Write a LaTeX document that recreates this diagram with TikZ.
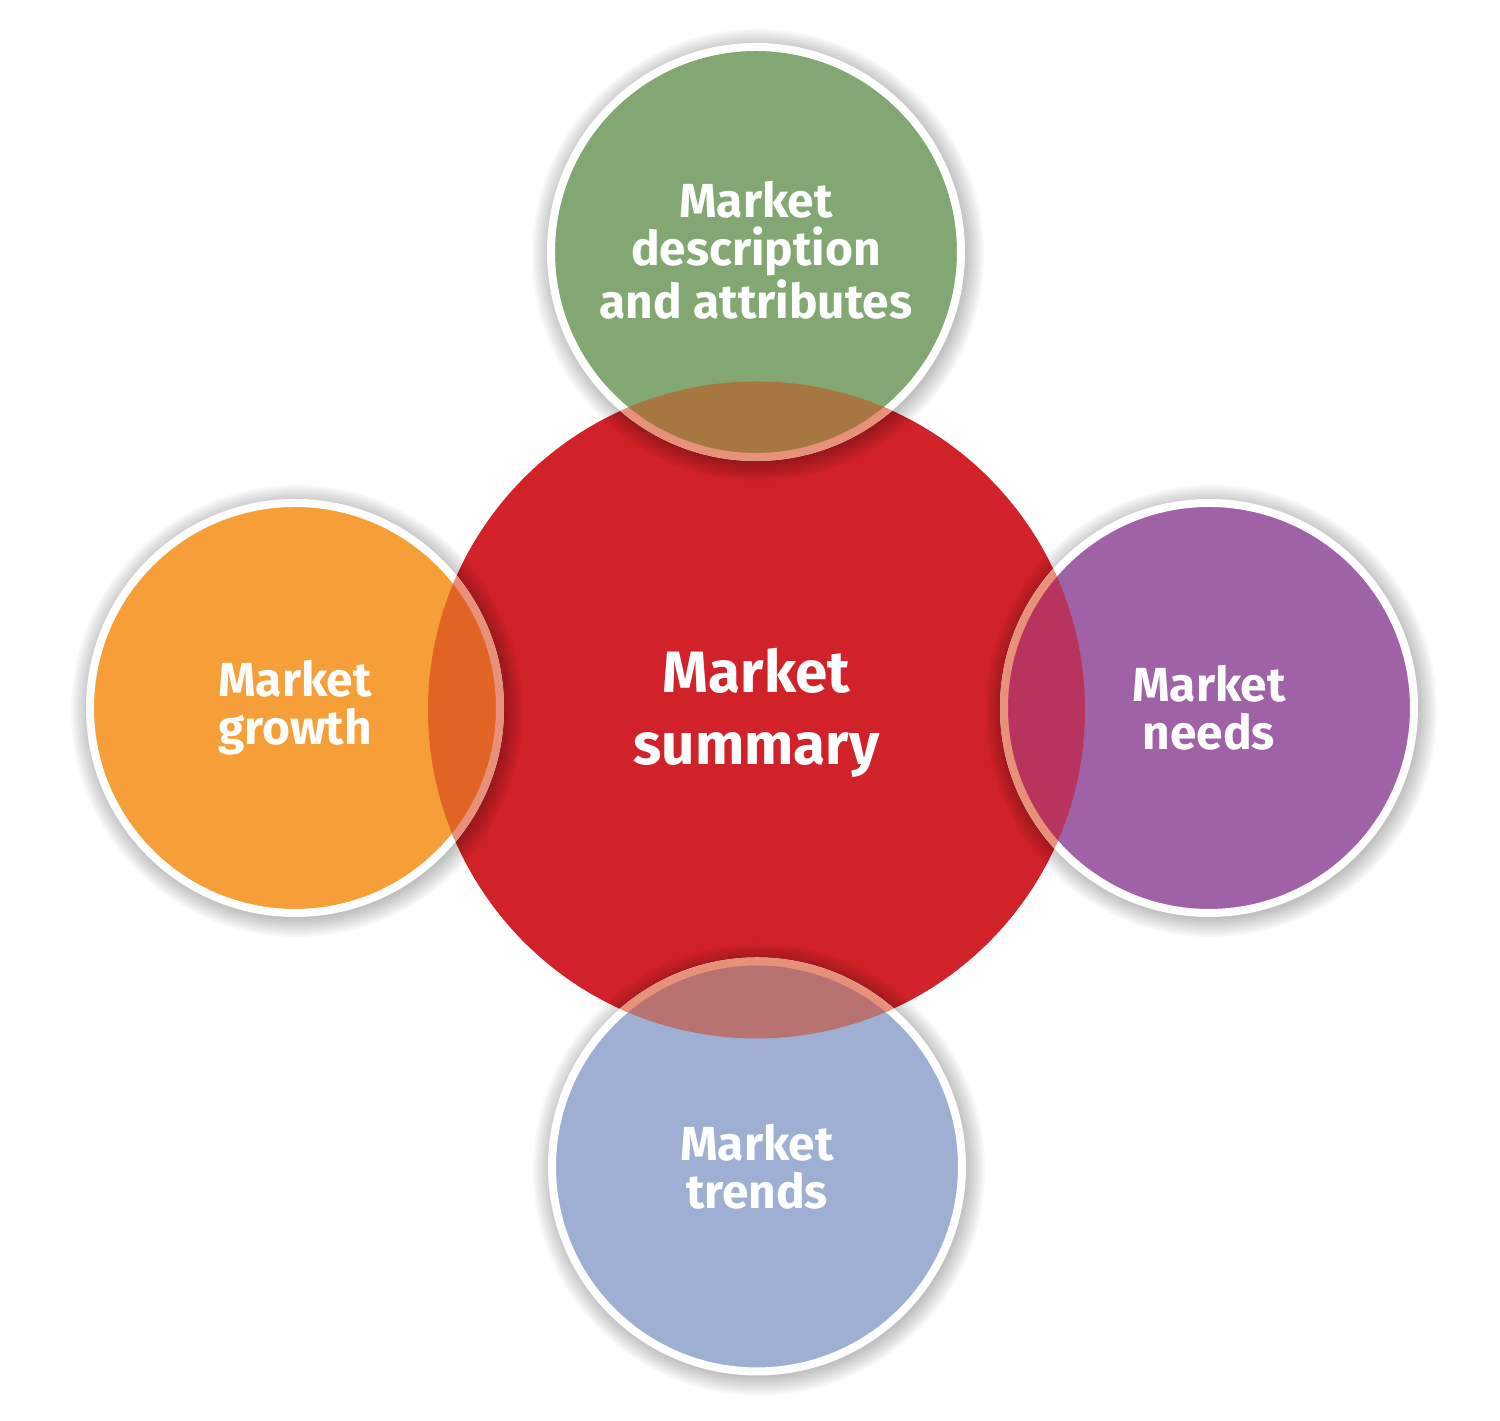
\documentclass[tikz,border=0pt]{standalone}
\usepackage{fontspec}
\setmainfont{Fira Sans}
\definecolor{mred}{HTML}{D12129}
\definecolor{mgreen}{HTML}{83A773}
\definecolor{ogreen}{HTML}{A67740}
\definecolor{morange}{HTML}{F69E38}
\definecolor{oorange}{HTML}{E26425}
\definecolor{mpurple}{HTML}{A062A6}
\definecolor{opurple}{HTML}{B8345F}
\definecolor{mblue}{HTML}{9FAFD3}
\definecolor{oblue}{HTML}{B87271}
\definecolor{salmon}{HTML}{E8917A}
\begin{document}
\begin{tikzpicture}[
    ring/.style={line width=0.08cm},
    txt/.style={text=white, align=center, font=\bfseries\fontsize{13.6}{13.7}\selectfont},
    bigtxt/.style={text=white, align=center, font=\bfseries\fontsize{16.6}{20.5}\selectfont}
  ]
  \useasboundingbox (0,0) rectangle (15,14.21);
  %\draw[help lines] (0,0) grid (15,14);
  \coordinate (cs) at (7.565,7.11);
  \coordinate (cg) at (7.56,11.69);
  \coordinate (co) at (2.95,7.13);
  \coordinate (cp) at (12.09,7.13);
  \coordinate (cb) at (7.57,2.545);
  \fill[mred] (cs) circle (3.285);
  \foreach \pos/\col/\ov in {cg/mgreen/ogreen, co/morange/oorange, cp/mpurple/opurple, cb/mblue/oblue}{
    % soft shadow
    \foreach \k in {1,...,10}
      \fill[black, fill opacity=0.028] ([shift={(0.02,-0.03)}]\pos) circle (2.06+\k*0.02);
    \fill[\col] (\pos) circle (2.05);
    \draw[ring, white] (\pos) circle (2.05);
    % part that lies on the red circle
    \begin{scope}
      \clip (cs) circle (3.285);
      \fill[\ov] (\pos) circle (2.05);
      \draw[ring, salmon] (\pos) circle (2.05);
    \end{scope}
  }
  \node[bigtxt] (summary) at ([yshift=-0.03cm]cs) {Market\\summary};
  \node[txt] (descr) at ([yshift=0.02cm]cg) {Market\\description\\and attributes};
  \node[txt] (growth) at (co) {Market\\growth};
  \node[txt] (needs) at (cp) {Market\\needs};
  \node[txt] (trends) at (cb) {Market\\trends};
\end{tikzpicture}
\end{document}
